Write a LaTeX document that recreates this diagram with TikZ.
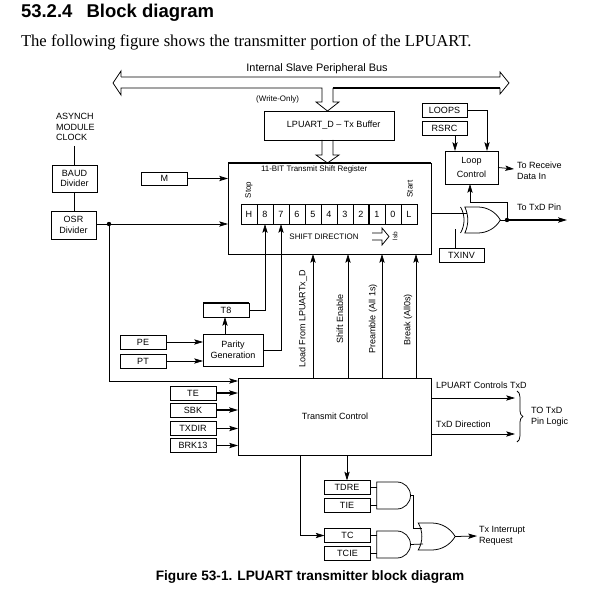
\documentclass[tikz,border=0pt]{standalone}
\usepackage{fontspec}
\setmainfont{Liberation Sans}
\newfontfamily\bodyserif{Liberation Serif}
\usepackage{tikz}
\usetikzlibrary{positioning,arrows.meta,decorations.pathreplacing,shapes.gates.logic.US}

\begin{document}
\begin{tikzpicture}[x=0.03cm,y=-0.03cm,
  line width=0.65pt,
  every node/.style={font=\fontsize{7.7}{9.2}\selectfont,inner sep=0pt,outer sep=0pt},
  tinytext/.style={font=\fontsize{6.8}{8}\selectfont},
  blockbox/.style={draw,align=center,minimum height=14*0.03cm,minimum width=46*0.03cm},
  regcell/.style={draw,minimum height=20*0.03cm,minimum width=16*0.03cm},
  gateshape/.style={draw,logic gate inputs=nn,inner sep=0pt},
  sig/.style={-{Stealth[length=7.5pt,width=4.5pt,inset=1.5pt]}},
  fatsig/.style={sig,line width=1.3pt},
  leftlabel/.style={anchor=west,align=left},
  sidelabel/.style={rotate=90,anchor=center}]
\useasboundingbox (0,0) rectangle (590,592);

\node[anchor=west,font=\fontsize{15.8}{18}\selectfont\bfseries] (heading) at (21,13) {53.2.4\hspace{12pt}Block diagram};
\node[anchor=west,font=\fontsize{14.2}{16}\selectfont\bodyserif] (intro) at (21,42) {The following figure shows the transmitter portion of the LPUART.};
\node[font=\fontsize{11.65}{14}\selectfont\bfseries] (figcaption) at (310,577) {Figure 53-1. LPUART transmitter block diagram};

% bus and the two hollow arrows
\draw (121,77) -- (500,77) -- (500,72) -- (509,83) -- (500,94) -- (500,88);
\draw[line width=1.2pt] (500,88) -- (333,88);
\draw (333,88) -- (333,102) -- (339,102) -- (327.5,111) -- (316,102) -- (322,102) -- (322,88) -- (121,88) -- (121,95) -- (113,83) -- (121,71) -- (121,77);
\node[font=\fontsize{9.3}{11}\selectfont] (busname) at (317,69) {Internal Slave Peripheral Bus};
\node[anchor=east,tinytext] (writeonly) at (299,99) {(Write-Only)};
\node[blockbox,minimum width=130*0.03cm,minimum height=29*0.03cm] (txbuffer) at (329,125.5) {\hspace{8pt}LPUART\_D -- Tx Buffer};
\draw (322,140) -- (322,155) -- (316,155) -- (327.5,163) -- (339,155) -- (333,155) -- (333,140);

% clock side
\node[leftlabel] (asynch) at (56,127) {ASYNCH\\MODULE\\CLOCK};
\node[blockbox,minimum width=45*0.03cm,minimum height=27*0.03cm] (baud) at (74.5,178.5) {BAUD\\Divider};
\node[blockbox,minimum width=45*0.03cm,minimum height=28*0.03cm] (osr) at (73.5,225) {OSR\\Divider};
\draw (74.5,146) -- (baud.north);
\draw (baud.south) -- (74.5,211);
\node[blockbox,minimum height=13*0.03cm] (mbit) at (164.5,178.5) {M};
\coordinate (clkdot) at (109,224);
\fill (clkdot) circle (2.2);

% shift register
\node[draw,minimum width=203*0.03cm,minimum height=91*0.03cm] (shiftreg) at (329.5,208.5) {};
\draw[line width=1.3pt] (shiftreg.north west) -- (shiftreg.north east);
\node[anchor=west,tinytext] (regtitle) at (261,169) {11-BIT Transmit Shift Register};
\foreach \lbl [count=\i] in {H,8,7,6,5,4,3,2,1,0,L} {
  \node[regcell] (cell\lbl) at ({233+16*\i},214) {\lbl};
}
\draw[line width=1.2pt] (cell2.south east) -- (cell2.north east);
\node[sidelabel,tinytext] (stoplabel) at (249,190) {Stop};
\node[sidelabel,tinytext] (startlabel) at (410,189) {Start};
\node[tinytext] (shiftdir) at (324,237) {SHIFT DIRECTION};
\draw (372,233) -- (382,233) -- (382,228) -- (389,236.5) -- (382,245) -- (382,240) -- (372,240);
\node[sidelabel,font=\fontsize{5.5}{7}\selectfont] (lsblabel) at (395,236) {lsb};

\draw[sig] (mbit.east) -- (mbit.east -| shiftreg.west);
\draw[sig] (osr.east |- clkdot) -- (clkdot -| shiftreg.west);

% loop control and XOR
\node[blockbox,minimum width=53*0.03cm,minimum height=33*0.03cm] (loopctl) at (471.5,167.5) {Loop\\[2pt]Control};
\node[blockbox,minimum width=45*0.03cm] (loops) at (444.5,110) {LOOPS};
\node[blockbox,minimum width=45*0.03cm] (rsrc) at (444.5,128.5) {RSRC};
\draw[sig] (loops.east) -| (487,151);
\draw[sig] (455,135.5) -- (455,151);
\draw[sig] (loopctl.east) -- (514,169);
\node[leftlabel] (rxlabel) at (517,170.5) {To Receive\\Data In};
\node[xor gate US,gateshape,minimum width=35*0.03cm,minimum height=26*0.03cm] (txgate) at (480,220) {};
\node[blockbox,minimum width=45*0.03cm] (txinv) at (461.5,255) {TXINV};
\coordinate (txdot) at (507,220);
\fill (txdot) circle (2.2);
\draw (431,213) -- (467,213);
\draw (455,248) -- (455,229);
\draw (txgate.output) -- (txdot);
\draw[sig,line width=1.3pt] (txdot) -- (567,220);
\draw[sig] (txdot) |- (470,202) -- (470,184);
\node[leftlabel] (txdpin) at (517,207) {To TxD Pin};

% transmit control
\node[draw,minimum width=193*0.03cm,minimum height=77*0.03cm] (txctl) at (334.5,416.5) {};
\node (txctltext) at (335,416) {Transmit Control};
\draw[sig] (313,378) -- (313,254);
\draw[sig] (348,378) -- (348,254);
\draw[sig] (382,378) -- (382,254);
\draw[sig] (416,378) -- (416,254);
\node[sidelabel] (loadlabel) at (303,319) {Load From LPUARTx\_D};
\node[sidelabel] (shiftlabel) at (340,319) {Shift Enable};
\node[sidelabel] (prelabel) at (373,319) {Preamble (All 1s)};
\node[sidelabel] (breaklabel) at (408,320) {Break (All0s)};
\draw[sig] (clkdot) |- (238,381);
\node[blockbox] (tebit) at (193,393) {TE};
\node[blockbox] (sbkbit) at (193,410) {SBK};
\node[blockbox] (txdirbit) at (193,428.5) {TXDIR};
\node[blockbox] (brkbit) at (193,445.5) {BRK13};
\draw[fatsig] (tebit.east) -- (tebit.east -| txctl.west);
\draw[fatsig] (sbkbit.east) -- (sbkbit.east -| txctl.west);
\draw[sig] (txdirbit.east) -- (txdirbit.east -| txctl.west);
\draw[sig] (brkbit.east) -- (brkbit.east -| txctl.west);

% parity
\node[blockbox,minimum width=60*0.03cm,minimum height=32*0.03cm] (parity) at (233,350) {Parity\\Generation};
\node[blockbox] (t8bit) at (226,310) {T8};
\draw[line width=1.3pt] (t8bit.north west) -- (t8bit.north east);
\node[blockbox] (pebit) at (143,342) {PE};
\node[blockbox] (ptbit) at (143,361) {PT};
\draw[sig] (pebit.east) -- (pebit.east -| parity.west);
\draw[sig] (ptbit.east) -- (ptbit.east -| parity.west);
\draw[sig] (225,334) -- (225,317);
\draw[sig] (t8bit.east) -| (cell8.south);
\draw[sig] (parity.east) -| (cell7.south);

% outputs
\draw[sig] (431,398) -- (515,398);
\draw[sig] (431,434) -- (515,434);
\node[anchor=west] (ctrllabel) at (436,385) {LPUART Controls TxD};
\node[anchor=west] (dirlabel) at (436,424) {TxD Direction};
\draw[decorate,decoration={brace,amplitude=5pt}] (517,391) -- (517,442);
\node[leftlabel] (pinlogic) at (531,417) {TO TxD\\Pin Logic};

% interrupt logic
\node[blockbox] (tdrebit) at (347,487.5) {TDRE};
\node[blockbox] (tiebit) at (347,505) {TIE};
\node[blockbox] (tcbit) at (347.5,535.5) {TC};
\node[blockbox] (tciebit) at (347.5,553.5) {TCIE};
\node[and gate US,gateshape,minimum width=31*0.03cm,minimum height=27*0.03cm] (andone) at (392.5,495.5) {};
\node[and gate US,gateshape,minimum width=31*0.03cm,minimum height=27*0.03cm] (andtwo) at (392.5,544.5) {};
\node[or gate US,gateshape,minimum width=32*0.03cm,minimum height=27*0.03cm] (orgate) at (434,536.5) {};
\draw[sig] (347,455) -- (tdrebit.north);
\draw[sig] (300,455) |- (tcbit.west);
\draw (tdrebit.east) -- (tdrebit.east -| andone.west);
\draw (tiebit.east) -- (tiebit.east -| andone.west);
\draw (tcbit.east) -- (tcbit.east -| andtwo.west);
\draw (tciebit.east) -- (tciebit.east -| andtwo.west);
\draw (andone.output) -| (413,528) -- (422,528);
\draw (andtwo.output) -- (423,544);
\draw[sig] (orgate.output) -- (477,536);
\node[leftlabel] (irqlabel) at (479,536) {Tx Interrupt\\Request};
\end{tikzpicture}
\end{document}
